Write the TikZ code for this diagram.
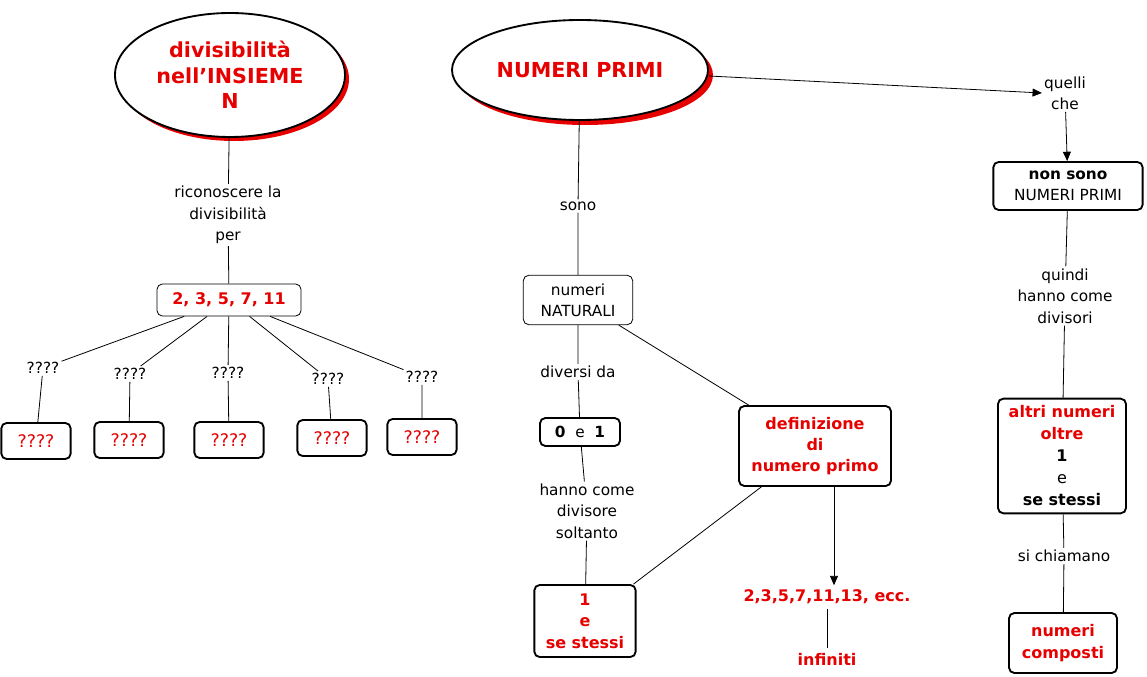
\documentclass[tikz,border=0pt]{standalone}
\usepackage{fontspec}
\setmainfont{DejaVu Sans}
\usetikzlibrary{shapes.geometric,arrows.meta}
\definecolor{rd}{RGB}{230,0,0}
\begin{document}
\begin{tikzpicture}[x=0.75pt,y=-0.75pt,
  every node/.style={font=\fontsize{11.5}{16}\selectfont,align=center},
  lab/.style={fill=white,inner sep=1.5pt},
  thin box/.style={draw,rounded corners=4pt,line width=0.6pt,fill=white,inner sep=2pt},
  thick box/.style={draw,rounded corners=4pt,line width=1.4pt,fill=white,inner sep=2pt},
  red text/.style={text=rd,font=\fontsize{12}{16}\selectfont\bfseries},
  ell/.style={ellipse,draw,line width=1.4pt,fill=white,text=rd,font=\fontsize{15.5}{19}\selectfont\bfseries},
  con/.style={line width=0.6pt},
  arr/.style={line width=0.6pt,-{Triangle[length=7pt,width=6pt]}}]
\useasboundingbox (0,0) rectangle (1147,677);
% ellipses with red shadow
\fill[rd] (234,79) ellipse (115 and 62);
\node[ell,minimum width=172.5pt,minimum height=93pt,inner sep=0] (e1) at (230,75) {divisibilità\\nell\symbol{39}INSIEME\\N};
\fill[rd] (585,75) ellipse (128 and 50);
\node[ell,minimum width=192pt,minimum height=75pt,inner sep=0] (e2) at (580,70) {NUMERI PRIMI};
% left branch
\node[lab] (l1) at (228,215) {riconoscere la\\divisibilità\\per};
\node[thin box,red text,minimum width=108pt,minimum height=24pt] (b1) at (229,300) {2, 3, 5, 7, 11};
\draw[con] (e1) -- (l1) -- (b1);
\foreach \i/\lx/\ly/\bx/\by in {1/43/368/36/441,2/130/374/129/440,3/228/373/229/440,4/328/379/332/438,5/422/377/422/437}{
  \node[lab] (q\i) at (\lx,\ly) {????};
  \node[thick box,minimum width=52pt,minimum height=27pt,text=rd,font=\fontsize{13}{15}\selectfont] (qb\i) at (\bx,\by) {????};
  \draw[con] (b1) -- (q\i) -- (qb\i);
}
% middle branch
\node[lab] (l2) at (578,206) {sono};
\node[thin box,minimum width=82pt,minimum height=37pt] (nat) at (578,300) {numeri\\NATURALI};
\draw[con] (e2) -- (l2) -- (nat);
\node[lab] (l3) at (578,372) {diversi da};
\node[thick box,minimum width=60pt,minimum height=21pt] (zu) at (580,432) {\textbf{0}\ \ e\ \ \textbf{1}};
\node[lab] (l4) at (587,511) {hanno come\\divisore\\soltanto};
\node[thick box,red text,minimum width=76pt,minimum height=54pt] (ess) at (585,621) {1\\e\\se stessi};
\draw[con] (nat) -- (l3) -- (zu) -- (l4) -- (ess);
\node[thick box,red text,minimum width=114pt,minimum height=60pt] (def) at (815,446) {definizione\\di\\numero primo};
\draw[con] (nat) -- (def);
\draw[con] (def) -- (ess);
\node[red text] (ex) at (827,597) {2,3,5,7,11,13, ecc.};
\node[red text] (inf) at (827,659) {infiniti};
\draw[arr] (def.south -| 834,0) -- (ex.north -| 834,0);
\draw[con] (ex) -- (inf);
% right branch
\node[lab] (qc) at (1065,93) {quelli\\che};
\draw[arr] (e2.east |- 0,76) -- (qc.west);
\node[thick box,minimum width=112pt,minimum height=36pt] (ns) at (1068,186) {\textbf{non sono}\\NUMERI PRIMI};
\draw[arr] (qc) -- (ns);
\node[lab] (l5) at (1065,296) {quindi\\hanno come\\divisori};
\node[thick box,minimum width=96pt,minimum height=86pt,font=\fontsize{12}{16.5}\selectfont] (alt) at (1062,456) {\textcolor{rd}{\textbf{altri numeri}}\\\textcolor{rd}{\textbf{oltre}}\\\textbf{1}\\e\\\textbf{se stessi}};
\draw[con] (ns) -- (l5) -- (alt);
\node[lab] (l6) at (1064,556) {si chiamano};
\node[thick box,red text,minimum width=81pt,minimum height=45pt] (comp) at (1063,643) {numeri\\composti};
\draw[con] (alt) -- (l6) -- (comp);
\end{tikzpicture}
\end{document}
